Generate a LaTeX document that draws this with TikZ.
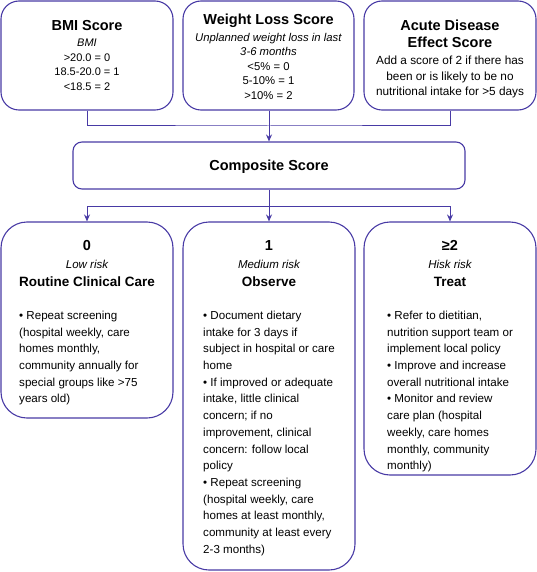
\documentclass[tikz,border=0pt]{standalone}
\usepackage{fontspec}
\setmainfont{Liberation Sans}
\usetikzlibrary{arrows.meta}
\definecolor{frame}{RGB}{72,58,165}
\tikzset{
  box/.style={draw=frame, line width=1.1pt, rectangle, inner sep=0pt},
  topbox/.style={box, rounded corners=18pt, minimum height=109pt},
  lowbox/.style={box, rounded corners=26pt, minimum width=172pt},
  conn/.style={draw=frame, line width=1pt},
  arr/.style={conn, -{Stealth[length=7pt,width=6pt]}},
  txt/.style={inner sep=0pt, anchor=north, align=center},
  ltxt/.style={inner sep=0pt, anchor=north west, align=left},
  ttl/.style={font=\fontsize{14.5}{17}\selectfont\bfseries},
}
\begin{document}
\begin{tikzpicture}[x=1pt,y=-1pt]
\useasboundingbox (0,0) rectangle (537,572);
% top boxes
\node[topbox, minimum width=172pt] (bmi) at (87,55.5) {};
\node[topbox, minimum width=171pt] (wl) at (268.5,55.5) {};
\node[topbox, minimum width=172pt] (ad) at (450,55.5) {};
\node[txt, ttl] (bmit) at (87,20.6) {BMI Score};
\node[txt, font=\fontsize{11}{14.5}\selectfont] (bmib) at (87,38.9)
  {\textit{BMI}\\>20.0 = 0\\18.5-20.0 = 1\\<18.5 = 2};
\node[txt, ttl] (wlt) at (268.5,13.6) {Weight Loss Score};
\node[txt, font=\fontsize{11.3}{14.5}\selectfont] (wlb) at (268.5,33)
  {\textit{Unplanned weight loss in last}\\\textit{3-6 months}\\<5\% = 0\\5-10\% = 1\\>10\% = 2};
\node[txt, ttl] (adt) at (450,19.6) {Acute Disease\\Effect Score};
\node[txt, font=\fontsize{11.8}{15.5}\selectfont] (adb) at (450,55.8)
  {Add a score of 2 if there has\\been or is likely to be no\\nutritional intake for >5 days};
% composite
\node[box, rounded corners=9pt, minimum width=392pt, minimum height=47pt] (comp) at (269,165.5) {};
\node[txt, ttl] (compt) at (269,160.1) {Composite Score};
% bottom boxes
\node[lowbox, minimum height=196pt] (low) at (87,320) {};
\node[lowbox, minimum height=348pt] (med) at (269,396) {};
\node[lowbox, minimum height=253pt] (high) at (450,348.5) {};
\foreach \nm/\x/\num/\risk/\head in {low/87/0/Low risk/Routine Clinical Care, med/269/1/Medium risk/Observe, high/450/≥2/Hisk risk/Treat}{
  \node[txt, ttl] (\nm n) at (\x,240.6) {\num};
  \node[txt, font=\fontsize{11.5}{14}\selectfont\itshape] (\nm r) at (\x,259.8) {\risk};
  \node[txt, font=\fontsize{13.5}{16}\selectfont\bfseries] (\nm h) at (\x,277) {\head};
}
\tikzset{bodyf/.style={font=\fontsize{11.6}{16.7}\selectfont}}
\node[ltxt, bodyf] (lowb) at (19,310.8)
  {• Repeat screening\\(hospital weekly, care\\homes monthly,\\community annually for\\special groups like >75\\years old)};
\node[ltxt, bodyf] (medb) at (203,310.8)
  {• Document dietary\\intake for 3 days if\\subject in hospital or care\\home\\• If improved or adequate\\intake, little clinical\\concern; if no\\improvement, clinical\\concern: follow local\\policy\\• Repeat screening\\(hospital weekly, care\\homes at least monthly,\\community at least every\\2-3 months)};
\node[ltxt, bodyf] (highb) at (387,310.8)
  {• Refer to dietitian,\\nutrition support team or\\implement local policy\\• Improve and increase\\overall nutritional intake\\• Monitor and review\\care plan (hospital\\weekly, care homes\\monthly, community\\monthly)};
% connectors
\coordinate (jt) at (269,126);
\coordinate (jb) at (269,206);
\draw[conn] (bmi.south) |- (jt) -| (ad.south);
\draw[arr] (wl.south -| comp.north) -- (comp.north);
\draw[conn] (comp.south) -- (jb);
\draw[arr] (jb) -| (low.north);
\draw[arr] (jb) -- (med.north);
\draw[arr] (jb) -| (high.north);
\end{tikzpicture}
\end{document}
